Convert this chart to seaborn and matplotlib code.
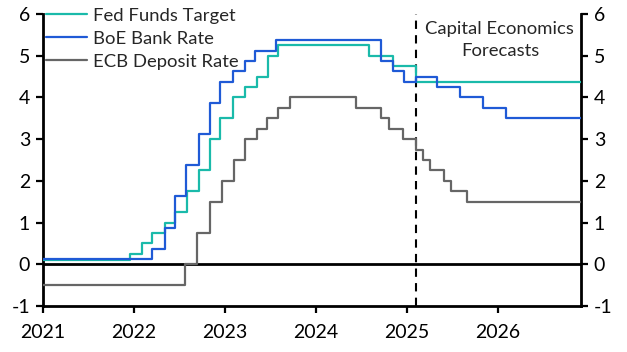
import pandas as pd
import matplotlib.pyplot as plt
import matplotlib.dates as mdates
import seaborn as sns

# step change dates and levels (last date = end of chart)
fed_dates = ['2021-01-01', '2021-12-16', '2022-02-03', '2022-03-17', '2022-05-05',
             '2022-06-16', '2022-08-04', '2022-09-22', '2022-11-03', '2022-12-15',
             '2023-02-02', '2023-03-23', '2023-05-11', '2023-06-22', '2023-08-03',
             '2024-08-01', '2024-11-07', '2025-02-07', '2026-12-01']
fed_rates = [0.1, 0.25, 0.5, 0.75, 1.0, 1.25, 1.75, 2.25, 3.0, 3.5,
             4.0, 4.25, 4.5, 5.0, 5.25, 5.0, 4.75, 4.375, 4.375]

boe_dates = ['2021-01-01', '2022-03-17', '2022-05-05', '2022-06-16', '2022-07-28',
             '2022-09-22', '2022-11-03', '2022-12-15', '2023-02-02', '2023-03-23',
             '2023-05-04', '2023-07-27', '2024-09-19', '2024-11-08', '2024-12-19',
             '2025-02-07', '2025-04-30', '2025-07-31', '2025-11-01', '2026-02-01',
             '2026-12-01']
boe_rates = [0.125, 0.375, 0.875, 1.625, 2.375, 3.125, 3.875, 4.375, 4.625, 4.875,
             5.125, 5.375, 4.875, 4.625, 4.375, 4.5, 4.25, 4.0, 3.75, 3.5, 3.5]

ecb_dates = ['2021-01-01', '2022-07-27', '2022-09-14', '2022-11-02', '2022-12-21',
             '2023-02-08', '2023-03-22', '2023-05-10', '2023-06-21', '2023-08-02',
             '2023-09-20', '2024-06-12', '2024-09-18', '2024-10-23', '2024-12-18',
             '2025-02-07', '2025-03-05', '2025-04-02', '2025-05-28', '2025-06-28',
             '2025-08-30', '2026-12-01']
ecb_rates = [-0.5, 0.0, 0.75, 1.5, 2.0, 2.5, 3.0, 3.25, 3.5, 3.75,
             4.0, 3.75, 3.5, 3.25, 3.0, 2.75, 2.5, 2.25, 2.0, 1.75, 1.5, 1.5]

labels = ['Fed Funds Target', 'BoE Bank Rate', 'ECB Deposit Rate']
colors = ['#1abaaa', '#1f5ad6', '#666666']
forecast_start = '2025-02-07'

frames = []
for name, d, r in zip(labels, [fed_dates, boe_dates, ecb_dates], [fed_rates, boe_rates, ecb_rates]):
    frames.append(pd.DataFrame({'date': pd.to_datetime(d), 'rate': r, 'series': name}))
df = pd.concat(frames, ignore_index=True)

sns.set_style('white')
plt.rcParams['font.family'] = ['Lato', 'DejaVu Sans']
plt.rcParams['axes.unicode_minus'] = False

fig = plt.figure(figsize=(6.27, 3.52), dpi=100)
ax = fig.add_axes([0.068, 0.131, 0.859, 0.829])

ax.axhline(0, color='black', linewidth=2, zorder=1)
ax.axvline(pd.Timestamp(forecast_start), color='black', linestyle=(0, (4, 3)), linewidth=1.5, zorder=1)

sns.lineplot(data=df, x='date', y='rate', hue='series', hue_order=labels,
             palette=colors, drawstyle='steps-post', linewidth=1.6, ax=ax, zorder=3)

ax.set_xlim(pd.Timestamp('2021-01-01'), pd.Timestamp('2026-12-01'))
ax.set_ylim(-1, 6)
ax.set_yticks(range(-1, 7))
ax.xaxis.set_major_locator(mdates.YearLocator())
ax.xaxis.set_major_formatter(mdates.DateFormatter('%Y'))
ax.set_xlabel(None)
ax.set_ylabel(None)

for side in ['left', 'right', 'bottom']:
    ax.spines[side].set_visible(True)
    ax.spines[side].set_color('black')
    ax.spines[side].set_linewidth(2)
ax.spines['top'].set_visible(False)

ax.tick_params(axis='both', direction='out', length=5, width=1.6, color='black',
               labelsize=14, labelcolor='black')
ax.tick_params(axis='y', left=True, right=True, labelright=True, pad=4)
ax.tick_params(axis='x', bottom=True, pad=8)

ax.text(0.849, 0.975, 'Capital Economics\nForecasts', transform=ax.transAxes,
        ha='center', va='top', fontsize=13.3, linespacing=1.45)

ax.legend(loc='upper left', bbox_to_anchor=(0.0, 1.035), frameon=False,
          fontsize=13.3, handlelength=2.2, handletextpad=0.35, labelspacing=0.38,
          borderaxespad=0, borderpad=0.2)

fig.savefig('out.png', dpi=100)
